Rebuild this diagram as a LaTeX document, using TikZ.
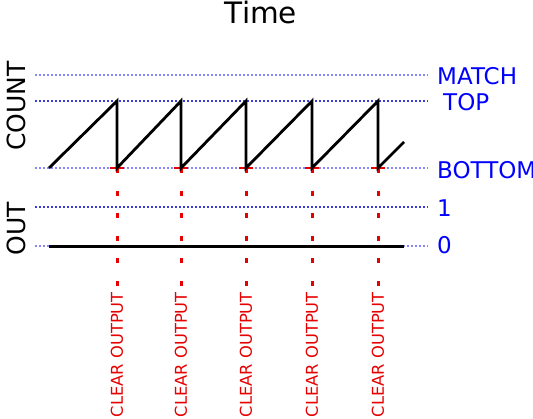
\documentclass[tikz,border=0pt]{standalone}
\usepackage{fontspec}
\setmainfont{DejaVu Sans}
\definecolor{lblue}{RGB}{135,135,255}
\definecolor{dblue}{RGB}{60,60,220}
\definecolor{lbl}{RGB}{0,0,255}
\definecolor{cred}{RGB}{230,0,0}
\begin{document}
\begin{tikzpicture}[x=1pt,y=-1pt,
  guide/.style={line width=1.3pt,dash pattern=on 1.5pt off 2.5pt},
  saw/.style={line width=2.8pt,line join=miter,line cap=butt},
  clr/.style={cred,line width=3pt,dash pattern=on 5pt off 17.6pt},
  lab/.style={lbl,font=\fontsize{23}{23}\selectfont,inner sep=0pt,anchor=west},
  axlab/.style={font=\fontsize{25}{25}\selectfont,inner sep=0pt,rotate=90},
  clrtxt/.style={cred,font=\fontsize{16.3}{16.3}\selectfont,inner sep=0pt,rotate=90,anchor=east}]
\useasboundingbox (0,0) rectangle (533,418);
% guide lines
\draw[guide,lblue] (35,75) -- (428,75);
\draw[guide,dblue] (35,101) -- (428,101);
\draw[guide,lblue] (35,168) -- (428,168);
\draw[guide,dblue] (35,207) -- (428,207);
\draw[guide,lblue] (35,246) -- (428,246);
% labels
\node (time) at (261,13) {\fontsize{29.5}{29.5}\selectfont Time};
\node[axlab] (count) at (16,106) {COUNT};
\node[axlab] (out) at (16,229) {OUT};
\node[lab] (match) at (437,76) {MATCH};
\node[lab] (top) at (443,102) {TOP};
\node[lab] (bottom) at (437,170) {BOTTOM};
\node[lab] (one) at (437,208) {1};
\node[lab] (zero) at (437,245.5) {0};
% clear output markers
\foreach \x [count=\i] in {117,181,246,312,378} {
  \draw[cred,line width=2.2pt] (\x-7,168) -- (\x+7,168);
  \draw[clr] (\x,168) -- (\x,290);
  \node[clrtxt] (c\i) at (\x,292) {CLEAR OUTPUT};
}
% sawtooth
\draw[saw] (49,168) -- (117,101) -- (117,168) -- (181,101) -- (181,168)
  -- (246,101) -- (246,168) -- (312,101) -- (312,168) -- (378,101)
  -- (378,168) -- (404,142);
% out line
\draw[line width=3pt] (49,246) -- (404,246);
\end{tikzpicture}
\end{document}
